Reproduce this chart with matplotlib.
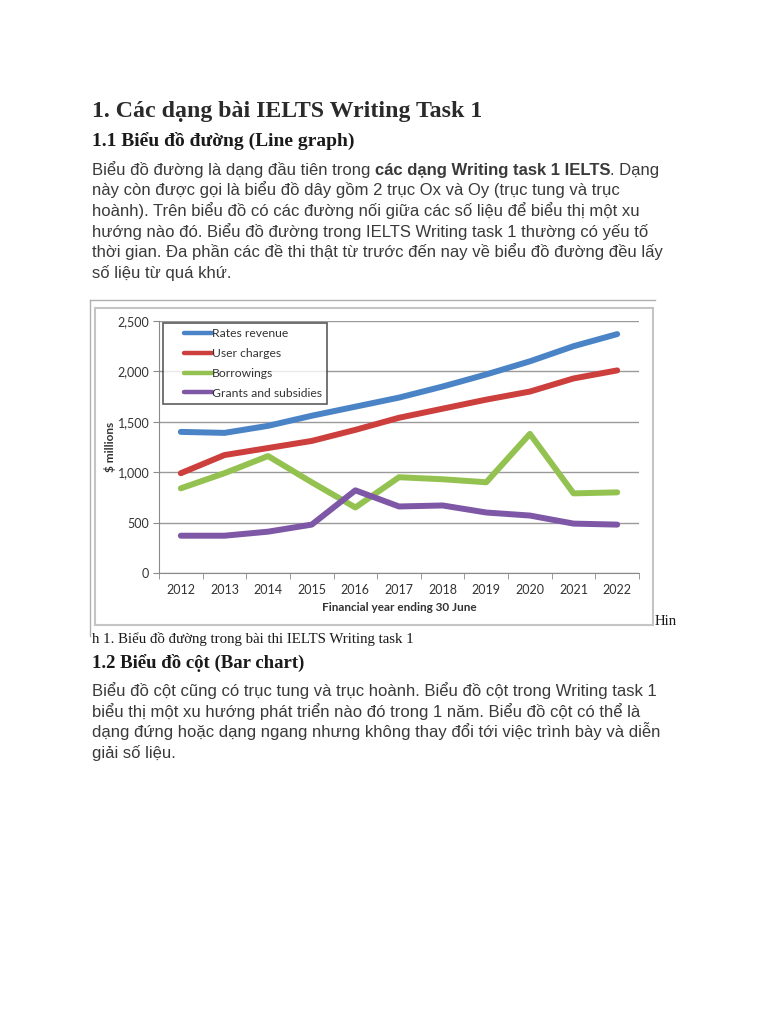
import matplotlib.pyplot as plt
from matplotlib.lines import Line2D
from matplotlib.patches import Rectangle
from matplotlib.legend_handler import HandlerBase

# data
years = ['2012', '2013', '2014', '2015', '2016', '2017', '2018', '2019', '2020', '2021', '2022']
rates_revenue = [1400, 1390, 1460, 1560, 1650, 1740, 1850, 1970, 2100, 2250, 2370]
user_charges = [990, 1170, 1240, 1310, 1420, 1540, 1630, 1720, 1800, 1930, 2010]
borrowings = [840, 990, 1160, 900, 650, 950, 930, 900, 1380, 790, 800]
grants = [370, 370, 410, 480, 820, 660, 670, 600, 570, 490, 480]
series_names = ['Rates revenue', 'User charges', 'Borrowings', 'Grants and subsidies']
y_ticks = [0, 500, 1000, 1500, 2000, 2500]

W, H = 768, 1024
fig = plt.figure(figsize=(W / 100, H / 100), dpi=100)
renderer = fig.canvas.get_renderer()

SERIF = ['Liberation Serif', 'DejaVu Serif']
SANS = ['Liberation Sans', 'DejaVu Sans']
CHART_FONT = ['Lato', 'DejaVu Sans']
TXT = '#3a3a3a'
HEAD = '#1a1a1a'


def px(x, y):
    return x / W, 1 - y / H


def put(x, y, s, **kw):
    return fig.text(*px(x, y), s, va='baseline', **kw)


def put_runs(x, y, runs, **kw):
    # runs: list of (text, weight) drawn one after another on a baseline
    for s, weight in runs:
        t = put(x, y, s, fontweight=weight, **kw)
        x = t.get_window_extent(renderer).x1


class GapLine(HandlerBase):
    # legend line that leaves an empty gap on its left, like the Excel legend
    def create_artists(self, legend, orig, xd, yd, w, h, fs, trans):
        y = h / 2 - yd
        line = Line2D([w * 0.36 - xd, w - xd], [y, y], color=orig.get_color(),
                      lw=3.2, solid_capstyle='round')
        line.set_transform(trans)
        return [line]


# headings and paragraph
put(92, 117, '1. Các dạng bài IELTS Writing Task 1', family=SERIF, fontsize=17.2,
    fontweight='bold', color='#2a2a2a')
put(92, 146, '1.1 Biểu đồ đường (Line graph)', family=SERIF, fontsize=14,
    fontweight='bold', color=HEAD)

body = dict(family=SANS, fontsize=12, color=TXT)
put_runs(92, 175, [('Biểu đồ đường là dạng đầu tiên trong ', 'normal'),
                   ('các dạng Writing task 1 IELTS', 'bold'),
                   ('. Dạng', 'normal')], **body)
para1 = ['này còn được gọi là biểu đồ dây gồm 2 trục Ox và Oy (trục tung và trục',
         'hoành). Trên biểu đồ có các đường nối giữa các số liệu để biểu thị một xu',
         'hướng nào đó. Biểu đồ đường trong IELTS Writing task 1 thường có yếu tố',
         'thời gian. Đa phần các đề thi thật từ trước đến nay về biểu đồ đường đều lấy',
         'số liệu từ quá khứ.']
for i, line in enumerate(para1):
    put(92, 195.5 + i * 20.6, line, **body)

# chart frame
fig.add_artist(Line2D([90 / W, 655 / W], [1 - 300 / H] * 2, color='#b0b0b0', lw=1))
fig.add_artist(Line2D([90 / W] * 2, [1 - 300 / H, 1 - 636 / H], color='#b0b0b0', lw=1))
fig.add_artist(Rectangle(px(95, 625), 558 / W, 317 / H, fill=False,
                         edgecolor='#c4c4c4', lw=1.5))

ax = fig.add_axes([159 / W, 1 - 573 / H, 480 / W, 252 / H])
colors = ['#4a84c6', '#cc3f3d', '#93c251', '#7e58a6']
x = list(range(len(years)))
for vals, name, c in zip([rates_revenue, user_charges, borrowings, grants], series_names, colors):
    ax.plot(x, vals, color=c, lw=4.3, label=name, solid_capstyle='round',
            solid_joinstyle='round')

ax.set_xlim(-0.5, len(years) - 0.5)
ax.set_ylim(0, 2500)
ax.set_yticks(y_ticks)
ax.set_yticklabels([f'{v:,}' for v in y_ticks])
ax.set_xticks(x)
ax.set_xticklabels(years)
ax.set_xticks([i - 0.5 for i in range(len(years) + 1)], minor=True)
ax.grid(axis='y', color='#9a9a9a', lw=1)
ax.set_axisbelow(True)
for s in ['top', 'right']:
    ax.spines[s].set_visible(False)
for s in ['left', 'bottom']:
    ax.spines[s].set_color('#8a8a8a')
ax.tick_params(axis='x', which='major', length=0, pad=8, labelsize=9, labelcolor='#333333')
ax.tick_params(axis='x', which='minor', length=4, color='#8a8a8a', direction='out')
ax.tick_params(axis='y', length=4, color='#8a8a8a', labelsize=9, labelcolor='#333333', pad=3)
for lab in ax.get_xticklabels() + ax.get_yticklabels():
    lab.set_family(CHART_FONT)
ax.set_xlabel('Financial year ending 30 June', fontsize=8.5, fontweight='bold',
              family=CHART_FONT, color='#333333', labelpad=4)
ax.set_ylabel('$ millions', fontsize=8.5, fontweight='bold',
              family=CHART_FONT, color='#333333', labelpad=1)

handles, labels = ax.get_legend_handles_labels()
leg = ax.legend(handles, labels, loc='upper left', bbox_to_anchor=(0.008, 0.992),
                frameon=True, fancybox=False, edgecolor='#333333', handlelength=3.6,
                handletextpad=0.0, labelspacing=0.72, borderpad=0.45,
                borderaxespad=0.0, handler_map={Line2D: GapLine()},
                prop={'family': CHART_FONT, 'size': 8.7})
leg.get_frame().set_linewidth(1.2)
for t in leg.get_texts():
    t.set_color('#333333')

# caption
put(655, 625, 'Hin', family=SERIF, fontsize=10.7, color=HEAD)
put(92, 643, 'h 1. Biểu đồ đường trong bài thi IELTS Writing task 1', family=SERIF,
    fontsize=10.7, color=HEAD)

put(92, 668, '1.2 Biểu đồ cột (Bar chart)', family=SERIF, fontsize=13.5,
    fontweight='bold', color=HEAD)
para2 = ['Biểu đồ cột cũng có trục tung và trục hoành. Biểu đồ cột trong Writing task 1',
         'biểu thị một xu hướng phát triển nào đó trong 1 năm. Biểu đồ cột có thể là',
         'dạng đứng hoặc dạng ngang nhưng không thay đổi tới việc trình bày và diễn',
         'giải số liệu.']
for i, line in enumerate(para2):
    put(92, 696 + i * 20.6, line, **body)

fig.savefig('out.png', dpi=100, facecolor='white')
